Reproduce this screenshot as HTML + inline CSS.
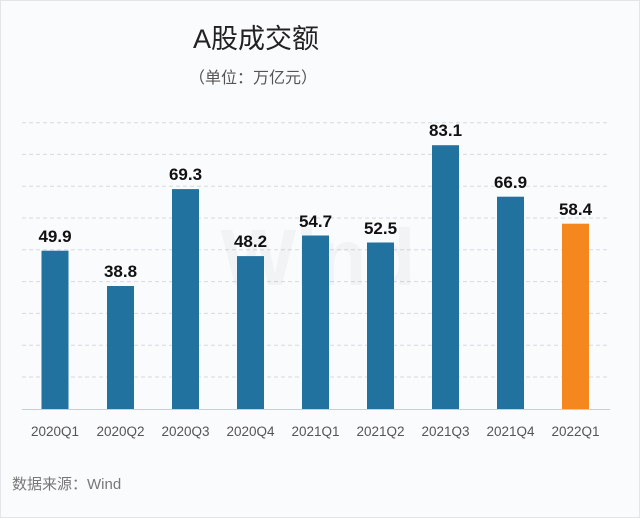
<!DOCTYPE html>
<html><head><meta charset="utf-8"><style>
html,body{margin:0;padding:0;background:#fff}
svg{display:block}
text{font-family:"Liberation Sans","Noto Sans CJK SC",sans-serif}
</style></head><body>
<svg width="640" height="518" viewBox="0 0 640 518" xmlns="http://www.w3.org/2000/svg">
<rect x="0.5" y="0.5" width="639" height="517" fill="#fafbfd" stroke="#e3e5e8"/>
<text x="256" y="48" font-size="27" text-anchor="middle" fill="#222">A股成交额</text>
<text x="253" y="83" font-size="16" text-anchor="middle" fill="#555">（单位：万亿元）</text>
<g stroke="#d6d9de" stroke-dasharray="4,3" stroke-width="1">
<line x1="22" x2="610" y1="122.7" y2="122.7"/>
<line x1="22" x2="610" y1="154.4" y2="154.4"/>
<line x1="22" x2="610" y1="186.2" y2="186.2"/>
<line x1="22" x2="610" y1="218" y2="218"/>
<line x1="22" x2="610" y1="249.8" y2="249.8"/>
<line x1="22" x2="610" y1="281.6" y2="281.6"/>
<line x1="22" x2="610" y1="313.4" y2="313.4"/>
<line x1="22" x2="610" y1="345.2" y2="345.2"/>
<line x1="22" x2="610" y1="377" y2="377"/>
</g>
<text x="318" y="285" font-size="80" font-weight="bold" text-anchor="middle" fill="#000" fill-opacity="0.03">Wind</text>
<g fill="#21729f">
<rect x="41.5" y="250.7" width="27" height="158.6"/>
<rect x="107" y="286" width="27" height="123.3"/>
<rect x="172" y="189.1" width="27" height="220.2"/>
<rect x="237" y="256.1" width="27" height="153.2"/>
<rect x="302" y="235.5" width="27" height="173.8"/>
<rect x="367" y="242.5" width="27" height="166.8"/>
<rect x="432" y="145.2" width="27" height="264.1"/>
<rect x="497" y="196.7" width="27" height="212.6"/>
</g>
<rect x="562" y="223.7" width="27" height="185.6" fill="#f5871f"/>
<line x1="22" x2="610" y1="409.5" y2="409.5" stroke="#c5cde0" stroke-width="1"/>
<g font-size="17" font-weight="bold" text-anchor="middle" fill="#111">
<text x="55" y="242">49.9</text>
<text x="120.5" y="277">38.8</text>
<text x="185.5" y="180">69.3</text>
<text x="250.5" y="247">48.2</text>
<text x="315.5" y="227">54.7</text>
<text x="380.5" y="234">52.5</text>
<text x="445.5" y="136">83.1</text>
<text x="510.5" y="188">66.9</text>
<text x="575.5" y="215">58.4</text>
</g>
<g font-size="13.5" text-anchor="middle" fill="#555">
<text x="55" y="436">2020Q1</text>
<text x="120.5" y="436">2020Q2</text>
<text x="185.5" y="436">2020Q3</text>
<text x="250.5" y="436">2020Q4</text>
<text x="315.5" y="436">2021Q1</text>
<text x="380.5" y="436">2021Q2</text>
<text x="445.5" y="436">2021Q3</text>
<text x="510.5" y="436">2021Q4</text>
<text x="575.5" y="436">2022Q1</text>
</g>
<text x="12" y="489" font-size="15" fill="#777">数据来源：Wind</text>
</svg>
</body></html>
